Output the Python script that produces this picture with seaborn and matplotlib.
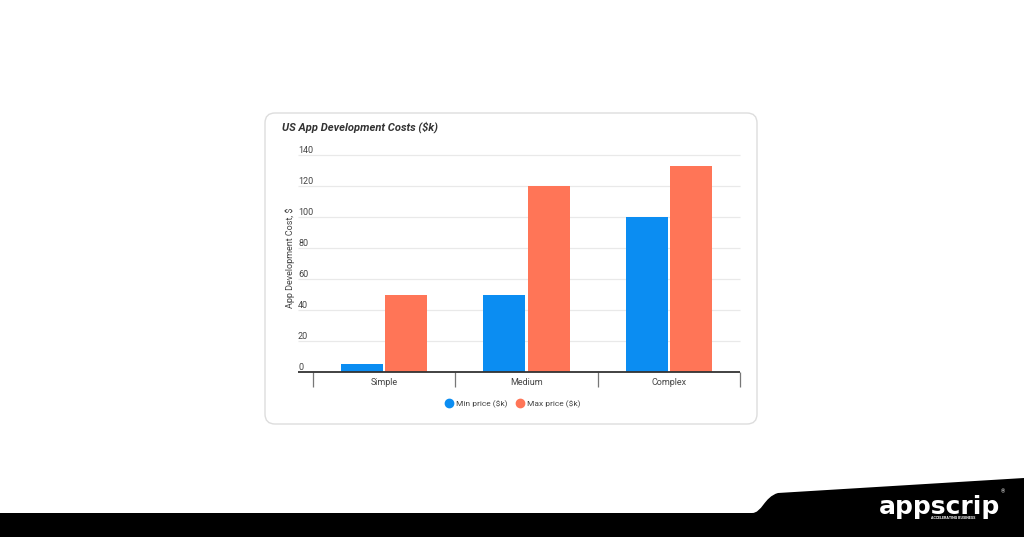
import pandas as pd
import matplotlib.pyplot as plt
import seaborn as sns
from matplotlib.patches import FancyBboxPatch, PathPatch
from matplotlib.path import Path
from matplotlib.lines import Line2D
from matplotlib.transforms import IdentityTransform

# Data
categories = ['Simple', 'Medium', 'Complex']
min_price = [5, 50, 100]
max_price = [50, 120, 133]
series_names = ['Min price ($k)', 'Max price ($k)']
y_ticks = [0, 20, 40, 60, 80, 100, 120, 140]

BLUE = '#0b8df2'
ORANGE = '#ff7557'

df = pd.DataFrame({'Complexity': categories,
                   series_names[0]: min_price,
                   series_names[1]: max_price})
df = df.melt(id_vars='Complexity', var_name='Series', value_name='Cost')

sns.set_style('white')
plt.rcParams['font.family'] = ['Roboto', 'DejaVu Sans']

fig = plt.figure(figsize=(10.24, 5.37), dpi=100)
fig.patch.set_facecolor('white')

# card behind the chart (pixel coords, origin bottom-left)
card = FancyBboxPatch((265, 113), 492, 311, boxstyle='round,pad=0,rounding_size=10',
                      transform=IdentityTransform(), facecolor='white',
                      edgecolor='#dddddd', linewidth=1.0, zorder=-5)
fig.patches.append(card)

ax = fig.add_axes([313 / 1024, (537 - 372) / 537, 427 / 1024, 217 / 537])
ax.set_facecolor('none')

sns.barplot(data=df, x='Complexity', y='Cost', hue='Series', order=categories,
            hue_order=series_names, palette=[BLUE, ORANGE], saturation=1,
            width=0.62, gap=0.05, edgecolor='none', legend=False, ax=ax, zorder=2)

ax.set_xlim(-0.5, 2.5)
ax.set_ylim(0, 140)
for s in ax.spines.values():
    s.set_visible(False)

# gridlines + labels sitting on top of them
ytr = ax.get_yaxis_transform()
ax.hlines([v for v in y_ticks if v > 0], -0.035, 1, transform=ytr, color='#e9e9e9',
          lw=0.9, clip_on=False, zorder=0)
ax.hlines([0], -0.035, 1, transform=ytr, color='#333333', lw=1.3, clip_on=False, zorder=3)
for v in y_ticks:
    ax.text(-0.035, v, f'{v}', transform=ytr, ha='left', va='bottom', fontsize=6.5,
            color='#444444')
ax.set_yticks([])
ax.set_ylabel('')
fig.text(290 / 1024, 1 - 258 / 537, 'App Development Cost, $', rotation=90,
         ha='center', va='center', fontsize=6.5, color='#444444')

# category separators under the axis
xtr = ax.get_xaxis_transform()
ax.vlines([-0.5, 0.5, 1.5, 2.5], 0, -15 / 217, transform=xtr, color='#777777',
          lw=0.9, clip_on=False)
ax.set_xticks(range(len(categories)))
ax.set_xticklabels(categories, fontsize=6.5, color='#444444')
ax.tick_params(axis='x', length=0, pad=4)
ax.set_xlabel('')

fig.text(282 / 1024, 1 - 127 / 537, 'US App Development Costs ($k)', fontsize=8,
         fontweight='bold', fontstyle='italic', color='#333333', ha='left', va='center')

handles = [Line2D([], [], marker='o', linestyle='none', markersize=6,
                  markerfacecolor=c, markeredgecolor=c) for c in (BLUE, ORANGE)]
fig.legend(handles, series_names, loc='center', bbox_to_anchor=(513 / 1024, 1 - 404 / 537),
           ncol=2, frameon=False, fontsize=6, handletextpad=0.5, columnspacing=1.0,
           handlelength=0.8, labelcolor='#444444')

# footer band with brand badge
verts = [(0, 0), (0, 24), (752, 24), (762, 24), (764, 40), (778, 44),
         (1024, 59), (1024, 0), (0, 0)]
codes = [Path.MOVETO, Path.LINETO, Path.LINETO, Path.CURVE4, Path.CURVE4, Path.CURVE4,
         Path.LINETO, Path.LINETO, Path.CLOSEPOLY]
fig.patches.append(PathPatch(Path(verts, codes), transform=IdentityTransform(),
                             facecolor='black', edgecolor='none', zorder=1))
fig.text(940 / 1024, 1 - 507 / 537, 'appscrip', color='white', fontsize=18,
         fontweight='bold', ha='center', va='center', family='DejaVu Sans')
fig.text(953 / 1024, 1 - 518 / 537, 'ACCELERATING BUSINESS', color='white', fontsize=2.6,
         fontweight='bold', ha='center', va='center')
fig.text(1003 / 1024, 1 - 492 / 537, '®', color='white', fontsize=4, ha='center',
         va='center')

fig.savefig('out.png', dpi=100)
